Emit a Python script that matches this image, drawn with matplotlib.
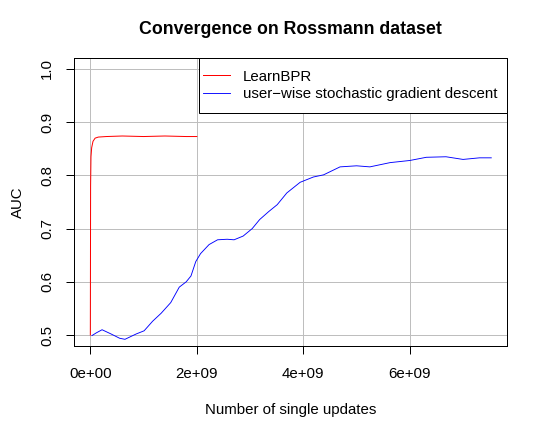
import matplotlib
matplotlib.use("Agg")
import matplotlib.pyplot as plt
from matplotlib.patches import Rectangle
import numpy as np

plt.rcParams['font.family'] = ['Liberation Sans', 'DejaVu Sans']

# Data (x in billions of single updates)
bpr_x = [0.0, 0.005, 0.012, 0.025, 0.05, 0.09, 0.15, 0.3, 0.6, 1.0, 1.4, 1.8, 2.0]
bpr_y = [0.5, 0.78, 0.835, 0.852, 0.864, 0.870, 0.872, 0.873, 0.874, 0.873, 0.874, 0.873, 0.873]

sgd_x = [0.03, 0.11, 0.22, 0.39, 0.55, 0.65, 0.86, 1.01, 1.17, 1.33, 1.51, 1.67, 1.80,
         1.89, 1.98, 2.07, 2.23, 2.39, 2.57, 2.70, 2.87, 3.04, 3.18, 3.35, 3.51, 3.69,
         3.94, 4.19, 4.38, 4.69, 5.00, 5.25, 5.63, 6.00, 6.31, 6.68, 7.00, 7.31, 7.53]
sgd_y = [0.499, 0.504, 0.510, 0.502, 0.494, 0.492, 0.502, 0.508, 0.526, 0.541, 0.561,
         0.590, 0.600, 0.611, 0.638, 0.653, 0.670, 0.679, 0.680, 0.679, 0.686, 0.700,
         0.717, 0.732, 0.745, 0.767, 0.787, 0.797, 0.801, 0.816, 0.818, 0.816, 0.824,
         0.828, 0.834, 0.835, 0.830, 0.833, 0.833]

labels = ["LearnBPR", "user\u2212wise stochastic gradient descent"]
x_ticks = [0, 2e9, 4e9, 6e9]
x_tick_labels = ["0e+00", "2e+09", "4e+09", "6e+09"]
y_ticks = [0.5, 0.6, 0.7, 0.8, 0.9, 1.0]
y_tick_labels = ["0.5", "0.6", "0.7", "0.8", "0.9", "1.0"]

W, H = 541, 431
L, R, T, B = 74.3, 507.3, 58.3, 345.7
fig = plt.figure(figsize=(W / 72, H / 72), dpi=72)
ax = fig.add_axes([L / W, 1 - B / H, (R - L) / W, (B - T) / H])

fs = 15
ax.plot(np.array(bpr_x) * 1e9, bpr_y, color='#FF0000', lw=1.0, label=labels[0], zorder=3)
ax.plot(np.array(sgd_x) * 1e9, sgd_y, color='#0000FF', lw=0.9, label=labels[1], zorder=3)

xmax = max(sgd_x) * 1e9
ax.set_xlim(-0.04 * xmax, xmax * 1.04)
ax.set_ylim(0.48, 1.02)
ax.set_xticks(x_ticks)
ax.set_xticklabels(x_tick_labels, fontsize=fs)
ax.set_yticks(y_ticks)
ax.set_yticklabels(y_tick_labels, fontsize=fs, rotation=90, va='center')
ax.grid(True, color='#bebebe', lw=1.0)
ax.set_axisbelow(True)
ax.tick_params(axis='both', direction='out', length=8, width=1, color='black')
ax.tick_params(axis='x', pad=13)
ax.tick_params(axis='y', pad=12)
for s in ax.spines.values():
    s.set_linewidth(1.0)
    s.set_color('black')

ax.set_title("Convergence on Rossmann dataset", fontsize=17.7, fontweight='bold', pad=24)
ax.set_xlabel("Number of single updates", fontsize=fs, labelpad=22)
ax.set_ylabel("AUC", fontsize=fs, labelpad=15)

# legend frame (opaque box in axes coordinates)
lx0 = (199.3 - L) / (R - L)
ly0 = (B - 112.7) / (B - T)
ax.add_patch(Rectangle((lx0, ly0), 1 - lx0, 1 - ly0, transform=ax.transAxes,
                       facecolor='white', edgecolor='black', lw=1.0, zorder=4,
                       clip_on=False))
leg = ax.legend(loc='center left', bbox_to_anchor=(lx0, (ly0 + 1) / 2),
                fontsize=fs, frameon=False, borderaxespad=0, borderpad=0.27,
                handlelength=1.8, handletextpad=0.85, labelspacing=0.25)
leg.set_zorder(5)

fig.savefig("out.png", dpi=72)
